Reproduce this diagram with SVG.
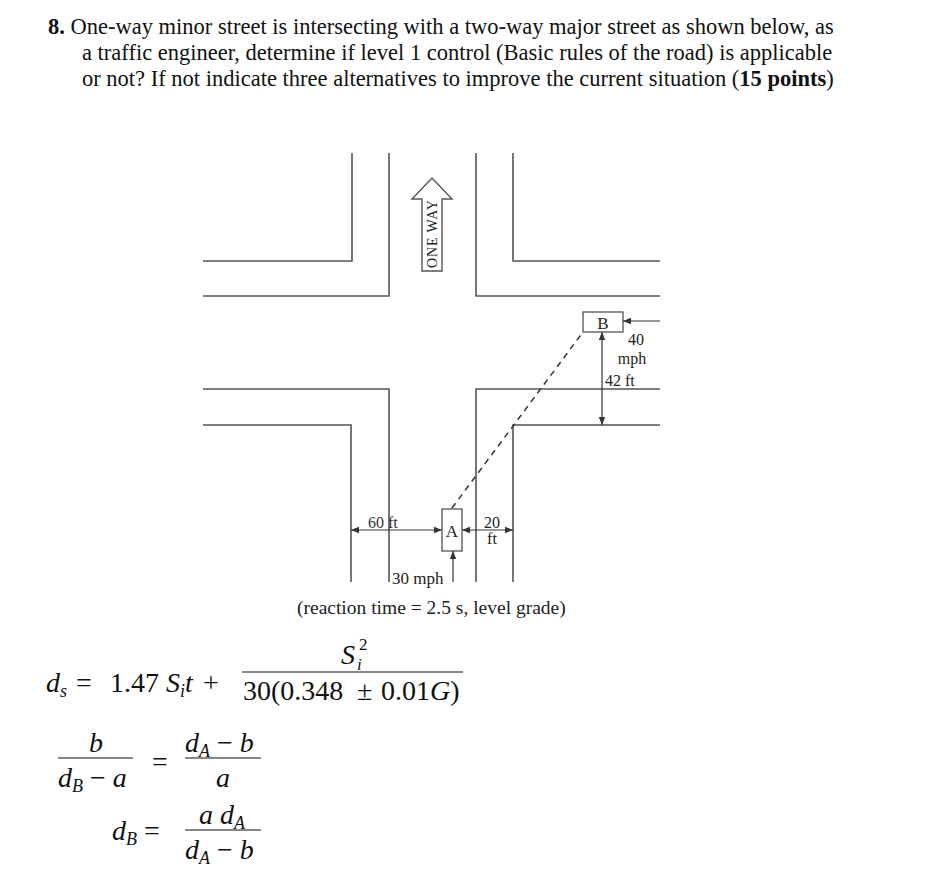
<svg xmlns="http://www.w3.org/2000/svg" width="930" height="874" viewBox="0 0 930 874">
<style>
.s{stroke:#555;stroke-width:1.6;fill:none}
.t{font-family:"Liberation Serif",serif;fill:#222}
.q{font-family:"Liberation Serif",serif;font-size:22.5px;fill:#111}
.m{font-family:"Liberation Serif",serif;font-size:28px;fill:#111}
.i{font-style:italic}
.b{stroke:#111;stroke-width:1.2}
</style>
<defs>
<marker id="ah" viewBox="0 0 10 10" refX="10" refY="5" markerWidth="7" markerHeight="7" orient="auto-start-reverse"><path d="M0,1L10,5L0,9z" fill="#333"/></marker>
</defs>
<rect width="930" height="874" fill="#fff"/>
<g id="question" class="q">
<text x="48" y="34"><tspan font-weight="bold">8.</tspan>  One-way minor street is intersecting with a two-way major street as shown below, as</text>
<text x="82" y="60">a traffic engineer, determine if level 1 control (Basic rules of the road) is applicable</text>
<text x="82" y="86">or not? If not indicate three alternatives to improve the current situation (<tspan font-weight="bold">15 points</tspan>)</text>
</g>
<g id="streets" class="s">
<path d="M203,261H352V153"/><path d="M203,296H389V153"/>
<path d="M660,261H513V153"/><path d="M660,296H476V153"/>
<path d="M203,389H389V582"/><path d="M203,425H351V582"/>
<path d="M660,389H476V582"/><path d="M660,425H513V582"/>
</g>
<g id="oneway">
<path d="M422,271V199H412L432,178L452,199H442V271Z" fill="#fff" stroke="#555" stroke-width="1.4"/>
<text class="t" font-size="14" textLength="68" transform="translate(437,268) rotate(-90)">ONE WAY</text>
</g>
<g id="A"><rect x="442" y="509" width="20" height="42" fill="#fff" stroke="#444" stroke-width="1.2"/><text class="t" x="452" y="537" font-size="17" text-anchor="middle">A</text></g>
<g id="B"><rect x="583" y="312" width="40" height="20" fill="#fff" stroke="#444" stroke-width="1.2"/><text class="t" x="603" y="329" font-size="17" text-anchor="middle">B</text></g>
<g id="connectors" stroke="#333" stroke-width="1.2" fill="none">
<path d="M452,508L583,332" stroke-dasharray="6,5" stroke-width="1.5"/>
<path d="M351,530H442" marker-start="url(#ah)" marker-end="url(#ah)"/>
<path d="M462,530H513" marker-start="url(#ah)" marker-end="url(#ah)"/>
<path d="M453,582V551" marker-end="url(#ah)"/>
<path d="M660,321H623" marker-end="url(#ah)"/>
<path d="M602,332V425" marker-start="url(#ah)" marker-end="url(#ah)"/>
</g>
<g id="labels" class="t" font-size="16">
<text x="368" y="528" fill="#333">60 ft</text>
<text x="492" y="528" text-anchor="middle">20</text>
<text x="492" y="544" text-anchor="middle">ft</text>
<text x="392" y="584" font-size="17">30 mph</text>
<text x="636" y="345" text-anchor="middle">40</text>
<text x="632" y="364" text-anchor="middle">mph</text>
<text x="605" y="386">42 ft</text>
<text x="297" y="614" font-size="19.5">(reaction time = 2.5 s, level grade)</text>
</g>
<g id="eq1" class="m">
<text x="46" y="692"><tspan class="i">d</tspan><tspan class="i" font-size="18" dy="5">s</tspan></text>
<text x="76" y="692">=</text>
<text x="110" y="692">1.47 <tspan class="i">S</tspan><tspan class="i" font-size="18" dy="5">i</tspan><tspan class="i" dy="-5">t</tspan></text>
<text x="203" y="692">+</text>
<text x="341" y="664" class="i">S</text>
<text x="357" y="670" class="i" font-size="17">i</text>
<text x="359" y="650" font-size="17">2</text>
<line class="b" x1="242" y1="672" x2="463" y2="672"/>
<text x="243" y="700">30(0.348</text>
<text x="357" y="700">±</text>
<text x="381" y="700">0.01<tspan class="i">G</tspan>)</text>
</g>
<g id="eq2" class="m">
<text x="96" y="752" class="i" text-anchor="middle">b</text>
<line class="b" x1="58" y1="758" x2="133" y2="758"/>
<text x="58" y="787"><tspan class="i">d</tspan><tspan class="i" font-size="18" dy="5">B</tspan><tspan dy="-5"> − </tspan><tspan class="i">a</tspan></text>
<text x="152" y="771">=</text>
<text x="185" y="752"><tspan class="i">d</tspan><tspan class="i" font-size="18" dy="5">A</tspan><tspan dy="-5"> − </tspan><tspan class="i">b</tspan></text>
<line class="b" x1="185" y1="758" x2="261" y2="758"/>
<text x="223" y="787" class="i" text-anchor="middle">a</text>
</g>
<g id="eq3" class="m">
<text x="112" y="840"><tspan class="i">d</tspan><tspan class="i" font-size="18" dy="5">B</tspan><tspan dy="-5"> =</tspan></text>
<text x="199" y="824"><tspan class="i">a d</tspan><tspan class="i" font-size="18" dy="5">A</tspan></text>
<line class="b" x1="185" y1="830" x2="261" y2="830"/>
<text x="185" y="859"><tspan class="i">d</tspan><tspan class="i" font-size="18" dy="5">A</tspan><tspan dy="-5"> − </tspan><tspan class="i">b</tspan></text>
</g>
</svg>
